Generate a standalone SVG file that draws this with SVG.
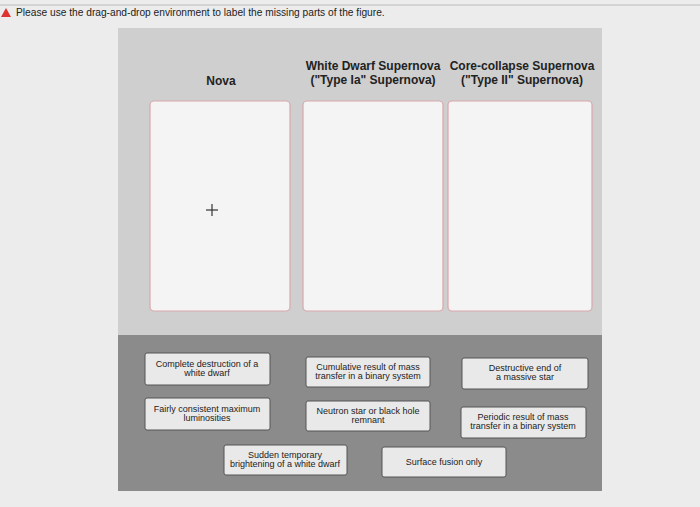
<svg xmlns="http://www.w3.org/2000/svg" width="700" height="507" viewBox="0 0 700 507">
<style>
text{font-family:"Liberation Sans",Arial,sans-serif;fill:#222}
.h{font-size:12px;font-weight:bold;text-anchor:middle}
.drop{fill:#f4f4f4;stroke:#d9a7ab;stroke-width:1.2}
.lab rect{fill:#e9e9e9;stroke:#555;stroke-width:1}
.lab text{font-size:9px;text-anchor:middle}
</style>
<rect width="700" height="507" fill="#ececec"/>
<line x1="0" y1="5" x2="700" y2="5" stroke="#bbb"/>
<polygon points="6,8 11,17 1,17" fill="#d33"/>
<text x="16" y="16" font-size="10.2">Please use the drag-and-drop environment to label the missing parts of the figure.</text>
<rect x="118" y="28" width="484" height="307" fill="#cfcfcf"/>
<rect x="118" y="335" width="484" height="156" fill="#8b8b8b"/>
<g id="heads">
<text class="h" x="221" y="85">Nova</text>
<text class="h" x="373" y="70">White Dwarf Supernova</text>
<text class="h" x="373" y="84">("Type Ia" Supernova)</text>
<text class="h" x="522" y="70">Core-collapse Supernova</text>
<text class="h" x="522" y="84">("Type II" Supernova)</text>
</g>
<g id="drop1"><rect class="drop" x="150" y="101" width="140" height="210" rx="4"/>
<g stroke="#333" stroke-width="1.2" fill="none"><line x1="212" y1="204" x2="212" y2="216"/><line x1="206" y1="210" x2="218" y2="210"/></g></g>
<g id="drop2"><rect class="drop" x="303" y="101" width="140" height="210" rx="4"/></g>
<g id="drop3"><rect class="drop" x="448" y="101" width="144" height="210" rx="4"/></g>
<g id="l1" class="lab"><rect x="145" y="353" width="125" height="32" rx="2"/><text x="207" y="367">Complete destruction of a</text><text x="207" y="376">white dwarf</text></g>
<g id="l2" class="lab"><rect x="306" y="357" width="124" height="30" rx="2"/><text x="368" y="370">Cumulative result of mass</text><text x="368" y="379">transfer in a binary system</text></g>
<g id="l3" class="lab"><rect x="462" y="358" width="126" height="31" rx="2"/><text x="525" y="371">Destructive end of</text><text x="525" y="380">a massive star</text></g>
<g id="l4" class="lab"><rect x="145" y="398" width="125" height="32" rx="2"/><text x="207" y="412">Fairly consistent maximum</text><text x="207" y="421">luminosities</text></g>
<g id="l5" class="lab"><rect x="306" y="401" width="124" height="30" rx="2"/><text x="368" y="414">Neutron star or black hole</text><text x="368" y="423">remnant</text></g>
<g id="l6" class="lab"><rect x="461" y="407" width="125" height="31" rx="2"/><text x="523" y="420">Periodic result of mass</text><text x="523" y="429">transfer in a binary system</text></g>
<g id="l7" class="lab"><rect x="224" y="445" width="123" height="30" rx="2"/><text x="285" y="458">Sudden temporary</text><text x="285" y="467">brightening of a white dwarf</text></g>
<g id="l8" class="lab"><rect x="382" y="447" width="124" height="30" rx="2"/><text x="444" y="465">Surface fusion only</text></g>
<g id="connectors"/>
</svg>
